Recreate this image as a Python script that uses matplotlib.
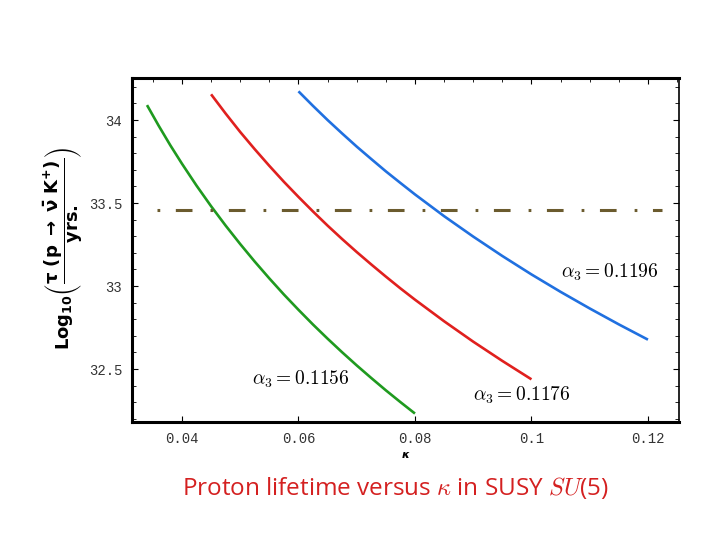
import matplotlib
matplotlib.use("Agg")
import matplotlib.pyplot as plt
from matplotlib.ticker import MultipleLocator, FixedLocator

# curves: kappa vs log10(tau / yrs)
kappa_1156 = [0.034, 0.036, 0.038, 0.040, 0.0425, 0.045, 0.0475, 0.050, 0.0525, 0.055,
              0.0575, 0.060, 0.0625, 0.065, 0.0675, 0.070, 0.0725, 0.075, 0.0775, 0.080]
logtau_1156 = [34.09, 33.966, 33.848, 33.737, 33.605, 33.481, 33.364, 33.253, 33.147, 33.046,
               32.949, 32.857, 32.768, 32.683, 32.601, 32.522, 32.446, 32.372, 32.301, 32.232]

kappa_1176 = [0.045, 0.0475, 0.050, 0.0525, 0.055, 0.0575, 0.060, 0.0625, 0.065, 0.0675,
              0.070, 0.0725, 0.075, 0.0775, 0.080, 0.085, 0.090, 0.095, 0.100]
logtau_1176 = [34.155, 34.039, 33.928, 33.824, 33.724, 33.628, 33.537, 33.449, 33.364, 33.283,
               33.205, 33.130, 33.057, 32.986, 32.918, 32.788, 32.665, 32.549, 32.438]

kappa_1196 = [0.060, 0.0625, 0.065, 0.0675, 0.070, 0.0725, 0.075, 0.0775, 0.080, 0.085,
              0.090, 0.095, 0.100, 0.105, 0.110, 0.115, 0.120]
logtau_1196 = [34.173, 34.085, 34.000, 33.919, 33.840, 33.765, 33.691, 33.621, 33.552, 33.421,
               33.298, 33.181, 33.070, 32.965, 32.865, 32.769, 32.677]

# experimental bound (dash-dot line)
bound_y = 33.46
bound_x = [0.0357, 0.1224]

labels = [r'$\alpha_3 = 0.1156$', r'$\alpha_3 = 0.1176$', r'$\alpha_3 = 0.1196$']
label_pos = [(0.0520, 32.44), (0.0899, 32.343), (0.1050, 33.08)]

x_ticks = [0.04, 0.06, 0.08, 0.1, 0.12]
x_ticklabels = ['0.04', '0.06', '0.08', '0.1', '0.12']
y_ticks = [32.5, 33, 33.5, 34]
y_ticklabels = ['32.5', '33', '33.5', '34']

plt.rcParams['mathtext.fontset'] = 'cm'

fig = plt.figure(figsize=(7.2, 5.4), dpi=100)
ax = fig.add_axes([0.1833, 0.2185, 0.7597, 0.637])

ax.plot(kappa_1156, logtau_1156, color='#1f9a1f', lw=1.9, solid_capstyle='butt')
ax.plot(kappa_1176, logtau_1176, color='#e0201e', lw=1.9, solid_capstyle='butt')
ax.plot(kappa_1196, logtau_1196, color='#2070e0', lw=1.9, solid_capstyle='butt')

ax.plot(bound_x, [bound_y, bound_y], color='#6b5b2e', lw=2.2,
        dashes=(0.9, 5.1, 5.45, 5.9), dash_capstyle='butt')

for txt, (lx, ly) in zip(labels, label_pos):
    ax.text(lx, ly, txt, fontsize=14, ha='left', va='center')

ax.set_xlim(0.03142, 0.12532)
ax.set_ylim(32.181, 34.253)

ax.xaxis.set_major_locator(FixedLocator(x_ticks))
ax.set_xticklabels(x_ticklabels)
ax.yaxis.set_major_locator(FixedLocator(y_ticks))
ax.set_yticklabels(y_ticklabels)
ax.yaxis.set_minor_locator(MultipleLocator(0.1))
ax.xaxis.set_minor_locator(MultipleLocator(0.005))

ax.tick_params(axis='both', which='major', direction='in', length=4, width=0.8,
               labelsize=10, labelcolor='#333333', pad=7)
ax.tick_params(axis='y', which='both', right=True, direction='in')
ax.tick_params(axis='y', which='minor', length=3, width=0.6)
ax.tick_params(axis='x', which='minor', top=True, bottom=False, direction='in', length=3, width=0.6)
ax.tick_params(axis='x', which='major', top=True)
for lab in ax.get_xticklabels() + ax.get_yticklabels():
    lab.set_family('Liberation Mono')

for side in ['left', 'top', 'bottom']:
    ax.spines[side].set_linewidth(2.2)
ax.spines['right'].set_linewidth(1.2)

ax.set_xlabel('κ', fontsize=8, fontweight='bold', style='italic', labelpad=3)

fig.text(0.088, 0.54,
         r'$\mathbf{Log_{10}}\left(\dfrac{\mathbf{\tau\ (p\ \rightarrow\ \bar{\nu}\ K^{+})}}{\mathbf{yrs.}}\right)$',
         rotation=90, ha='center', va='center', fontsize=13, math_fontfamily='dejavusans')

fig.text(0.549, 0.096, r'Proton lifetime versus $\kappa$ in SUSY $SU$(5)',
         color='#d42020', fontsize=17.5, family='Open Sans', ha='center', va='center')

fig.savefig('out.png', dpi=100)
